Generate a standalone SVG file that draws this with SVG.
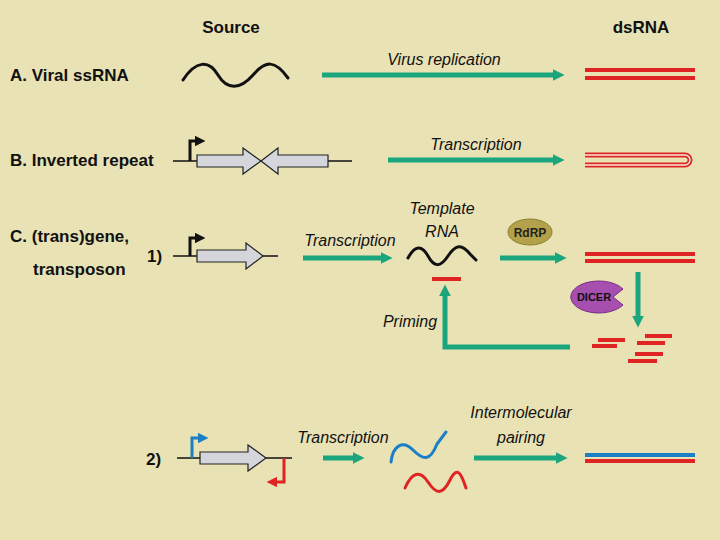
<svg xmlns="http://www.w3.org/2000/svg" width="720" height="540" viewBox="0 0 720 540">
<defs>
<style>
.t{font-family:"Liberation Sans",Arial,sans-serif;font-size:17px;font-weight:bold;fill:#111}
.i{font-family:"Liberation Sans",Arial,sans-serif;font-size:16px;font-style:italic;fill:#111}
.g{stroke:#1aa57d;stroke-width:5;fill:none}
.r{stroke:#e02424;stroke-width:4;fill:none}
.ln{stroke:#111;stroke-width:1.3;fill:none}
.box{fill:#d4d6dc;stroke:#222;stroke-width:1.2}
.w{fill:none;stroke-width:3;stroke-linecap:round}
</style>
<marker id="ah" viewBox="0 0 10 10" refX="2" refY="5" markerWidth="2.4" markerHeight="2.8" orient="auto" markerUnits="strokeWidth"><path d="M0,0L10,5L0,10z" fill="#1aa57d"/></marker>
<marker id="pk" viewBox="0 0 10 10" refX="2" refY="5" markerWidth="3.5" markerHeight="3.5" orient="auto" markerUnits="strokeWidth"><path d="M0,0L10,5L0,10z" fill="#111"/></marker>
<marker id="pb" viewBox="0 0 10 10" refX="2" refY="5" markerWidth="3.5" markerHeight="3.5" orient="auto" markerUnits="strokeWidth"><path d="M0,0L10,5L0,10z" fill="#1a7fc4"/></marker>
<marker id="pr" viewBox="0 0 10 10" refX="2" refY="5" markerWidth="3.5" markerHeight="3.5" orient="auto" markerUnits="strokeWidth"><path d="M0,0L10,5L0,10z" fill="#e02424"/></marker>
</defs>
<rect width="720" height="540" fill="#e9e2b5"/>
<text class="t" x="231" y="33" text-anchor="middle">Source</text>
<text class="t" x="641" y="33" text-anchor="middle">dsRNA</text>

<g id="rowA">
<text class="t" x="10" y="81">A. Viral ssRNA</text>
<path class="w" stroke="#111" d="M183,80 C196,60 209,60 218,75 S240,90 253,75 S275,60 288,78"/>
</g>
<g id="rowB">
<text class="t" x="10" y="166">B. Inverted repeat</text>
<line class="ln" x1="173" y1="161" x2="352" y2="161"/>
<path d="M190,161V141H197" stroke="#111" stroke-width="3" fill="none" marker-end="url(#pk)"/>
<path class="box" d="M197,155H243V148L261,161L243,174V167H197z"/>
<path class="box" d="M328,155H278V148L261,161L278,174V167H328z"/>
</g>
<g id="rowC">
<text class="t" x="10" y="242">C. (trans)gene,</text>
<text class="t" x="33" y="275">transposon</text>
<text class="t" x="147" y="262">1)</text>
<line class="ln" x1="173" y1="256" x2="278" y2="256"/>
<path d="M190,256V238H197" stroke="#111" stroke-width="3" fill="none" marker-end="url(#pk)"/>
<path class="box" d="M197,250H246V243L263,256L246,269V262H197z"/>
<text class="i" x="442" y="214" text-anchor="middle">Template</text>
<text class="i" x="442" y="237" text-anchor="middle">RNA</text>
<path class="w" stroke="#111" d="M408,258 C415,245 422,245 428,256 S440,268 448,256 S462,244 470,254 L476,260"/>
<line class="r" x1="432" y1="279" x2="461" y2="279"/>
</g>
<g id="rdrp">
<ellipse cx="530" cy="232" rx="22" ry="13" fill="#b3a24a" stroke="#8c7d30"/>
<text x="530" y="237" text-anchor="middle" font-family="Liberation Sans,Arial,sans-serif" font-weight="bold" font-size="12" fill="#222">RdRP</text>
</g>
<g id="dicer">
<path d="M623,289 A28,16 0 1 0 623,305 L613,297z" fill="#a64fae" stroke="#7a2c85"/>
<text x="594" y="301" text-anchor="middle" font-family="Liberation Sans,Arial,sans-serif" font-weight="bold" font-size="11" fill="#111">DICER</text>
</g>
<g id="row2">
<text class="t" x="146" y="465">2)</text>
<line class="ln" x1="177" y1="458" x2="292" y2="458"/>
<path d="M192,458V438H200" stroke="#1a7fc4" stroke-width="3" fill="none" marker-end="url(#pb)"/>
<path d="M284,458V482H275" stroke="#e02424" stroke-width="3" fill="none" marker-end="url(#pr)"/>
<path class="box" d="M200,452H248V445L266,458L248,471V464H200z"/>
<path class="w" stroke="#1a7fc4" d="M391,462 C393,445 403,440 413,450 S430,462 437,444 L446,432"/>
<path class="w" stroke="#e02424" d="M405,488 C412,472 420,470 428,482 S442,496 450,480 S462,476 466,488"/>
</g>
<g id="dsRNA">
<line class="r" x1="585" y1="70" x2="695" y2="70"/>
<line class="r" x1="585" y1="78" x2="695" y2="78"/>
<path d="M585,155H685A5,5 0 0 1 685,165H585" stroke="#e02424" stroke-width="5" fill="none"/>
<path d="M585,155H685A5,5 0 0 1 685,165H585" stroke="#f6e8d8" stroke-width="1.5" fill="none"/>
<line class="r" x1="585" y1="254" x2="695" y2="254"/>
<line class="r" x1="585" y1="261" x2="695" y2="261"/>
<line x1="585" y1="455" x2="695" y2="455" stroke="#1a7fc4" stroke-width="4"/>
<line class="r" x1="585" y1="461" x2="695" y2="461"/>
<g class="r" stroke-width="3.5">
<line x1="598" y1="340" x2="625" y2="340"/><line x1="592" y1="346" x2="617" y2="346"/>
<line x1="645" y1="336" x2="672" y2="336"/><line x1="637" y1="343" x2="665" y2="343"/>
<line x1="635" y1="354" x2="663" y2="354"/><line x1="628" y1="361" x2="657" y2="361"/>
</g>
</g>
<g id="connectors">
<line class="g" x1="322" y1="75" x2="555" y2="75" marker-end="url(#ah)"/>
<text class="i" x="444" y="65" text-anchor="middle">Virus replication</text>
<line class="g" x1="388" y1="160" x2="555" y2="160" marker-end="url(#ah)"/>
<text class="i" x="476" y="150" text-anchor="middle">Transcription</text>
<line class="g" x1="303" y1="258" x2="383" y2="258" marker-end="url(#ah)"/>
<text class="i" x="350" y="246" text-anchor="middle">Transcription</text>
<line class="g" x1="500" y1="258" x2="557" y2="258" marker-end="url(#ah)"/>
<line class="g" x1="638" y1="272" x2="638" y2="318" marker-end="url(#ah)"/>
<path class="g" d="M570,347H445V294" marker-end="url(#ah)"/>
<text class="i" x="410" y="327" text-anchor="middle">Priming</text>
<line class="g" x1="323" y1="458" x2="355" y2="458" marker-end="url(#ah)"/>
<text class="i" x="343" y="443" text-anchor="middle">Transcription</text>
<line class="g" x1="474" y1="458" x2="558" y2="458" marker-end="url(#ah)"/>
<text class="i" x="521" y="418" text-anchor="middle">Intermolecular</text>
<text class="i" x="521" y="443" text-anchor="middle">pairing</text>
</g>
</svg>
